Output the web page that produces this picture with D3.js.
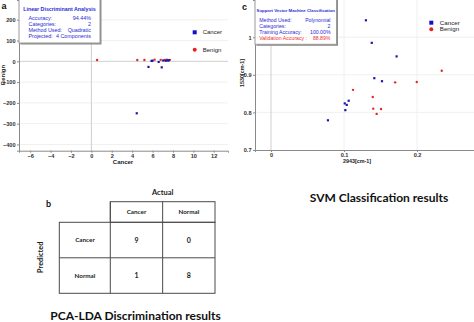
<!DOCTYPE html>
<html>
<head>
<meta charset="utf-8">
<script src="https://cdn.jsdelivr.net/npm/d3@7/dist/d3.min.js"></script>
<style>
  html, body { margin: 0; padding: 0; background: #fff; }
  svg { display: block; }
</style>
</head>
<body>
<svg id="chart" width="474" height="322"></svg>
<script>
// ---- Panel a: LDA scores (x = Cancer, y = Benign) ----
const ldaCancerX = [4.45, 5.6, 6.9, 6.0, 6.6, 7.05, 7.3, 7.5, 7.6, 5.9];
const ldaCancerY = [-250, -27, -29, 3, -3, 4, 3, 4, 5, 2];
const ldaBenignX = [0.56, 4.5, 5.2, 6.2, 7.2, 7.7, 7.4, 6.8];
const ldaBenignY = [6, 6, 6, 8, 6, 7, 8, 7];
const ldaXTicks = [-6, -4, -2, 0, 2, 4, 6, 8, 10, 12];
const ldaYTicks = [200, 100, 0, -100, -200, -300, -400];
const ldaInfoLabels = ["Accuracy:", "Categories:", "Method Used:", "Projected:"];
const ldaInfoValues = ["94.44%", "2", "Quadratic", "4 Components"];

// ---- Panel c: SVM (x = 2943 cm-1, y = 1530 cm-1) ----
const svmCancerX = [0.130, 0.138, 0.172, 0.1415, 0.152, 0.1064, 0.101, 0.1037, 0.1018, 0.078];
const svmCancerY = [1.045, 0.985, 0.949, 0.891, 0.883, 0.831, 0.824, 0.820, 0.806, 0.779];
const svmBenignX = [0.1123, 0.170, 0.1996, 0.2338, 0.1393, 0.140, 0.1507, 0.1447];
const svmBenignY = [0.860, 0.880, 0.881, 0.911, 0.841, 0.810, 0.809, 0.796];
const svmXTicks = [0, 0.1, 0.2];
const svmYTicks = [1, 0.9, 0.8, 0.7];
const svmInfoLabels = ["Method Used:", "Categories:", "Training Accuracy:", "Validation Accuracy :"];
const svmInfoValues = ["Polynomial", "2", "100.00%", "88.89%"];

// ---- Panel b: confusion matrix ----
const classes = ["Cancer", "Normal"];
const confusion = [[9, 0], [1, 8]];

const BLUE = "#1a1aa8", RED = "#e02a2a", BOXBLUE = "#2b2bd6", BOXRED = "#ee3030";
const SANS = "'Liberation Sans', Arial, sans-serif";
const HUMAN = "Lato, 'Open Sans', sans-serif";

const svg = d3.select("#chart");

function scatterPanel(cfg) {
  const g = svg.append("g");
  const x = d3.scaleLinear().domain(cfg.xDomain).range(cfg.xRange);
  const y = d3.scaleLinear().domain(cfg.yDomain).range(cfg.yRange);

  // grid
  g.append("g").selectAll("line").data(cfg.yTicks.filter(v => v !== 0 && v !== cfg.yDomain[0]))
    .join("line")
    .attr("x1", cfg.xRange[0]).attr("x2", cfg.xRange[1])
    .attr("y1", d => y(d)).attr("y2", d => y(d))
    .attr("stroke", "#ececec").attr("stroke-width", 0.8);
  if (cfg.vGrid) {
    g.append("g").selectAll("line").data(cfg.xTicks.filter(v => v !== 0))
      .join("line")
      .attr("x1", d => x(d)).attr("x2", d => x(d))
      .attr("y1", cfg.yRange[0]).attr("y2", cfg.yRange[1])
      .attr("stroke", "#ececec").attr("stroke-width", 0.8);
  }
  // zero lines
  if (cfg.zeroH) {
    g.append("line").attr("x1", cfg.xRange[0]).attr("x2", cfg.xRange[1])
      .attr("y1", y(0)).attr("y2", y(0)).attr("stroke", "#d0d0d0").attr("stroke-width", 1);
  }
  g.append("line").attr("x1", x(0)).attr("x2", x(0))
    .attr("y1", cfg.yRange[0]).attr("y2", cfg.yRange[1]).attr("stroke", "#cfcfcf").attr("stroke-width", 1);

  // axes
  const ax = g.append("g").attr("transform", `translate(0,${cfg.yRange[0]})`)
    .call(d3.axisBottom(x).tickValues(cfg.xTicks).tickSize(2).tickPadding(1.5).tickFormat(cfg.xFmt));
  const ay = g.append("g").attr("transform", `translate(${cfg.xRange[0]},0)`)
    .call(d3.axisLeft(y).tickValues(cfg.yTicks).tickSize(2).tickPadding(1.5).tickFormat(cfg.yFmt));
  [ax, ay].forEach(a => {
    a.select(".domain").attr("stroke", "#8a8a8a").attr("stroke-width", 1);
    a.selectAll(".tick line").attr("stroke", "#8a8a8a");
    a.selectAll("text").attr("font-family", SANS).attr("font-size", 5.6)
      .attr("font-weight", "bold").attr("fill", "#333");
  });

  // points
  const cancer = cfg.cx.map((v, i) => [v, cfg.cy[i]]);
  const benign = cfg.bx.map((v, i) => [v, cfg.by[i]]);
  g.append("g").selectAll("circle").data(benign).join("circle")
    .attr("cx", d => x(d[0])).attr("cy", d => y(d[1])).attr("r", 1.2).attr("fill", RED);
  g.append("g").selectAll("rect").data(cancer).join("rect")
    .attr("x", d => x(d[0]) - 1.1).attr("y", d => y(d[1]) - 1.1)
    .attr("width", 2.2).attr("height", 2.2).attr("fill", BLUE);

  // legend
  const lg = g.append("g").attr("transform", `translate(${cfg.legend[0]},${cfg.legend[1]})`);
  lg.append("rect").attr("x", -2).attr("y", -2).attr("width", 4).attr("height", 4).attr("fill", "#1010d0");
  lg.append("circle").attr("cx", 0).attr("cy", cfg.legendGap).attr("r", 2).attr("fill", "#e82020");
  lg.append("text").attr("x", cfg.legendTextDx).attr("y", 0).attr("dy", "0.35em").text("Cancer")
    .attr("font-family", SANS).attr("font-size", cfg.legendFont).attr("fill", "#222");
  lg.append("text").attr("x", cfg.legendTextDx).attr("y", cfg.legendGap).attr("dy", "0.35em").text("Benign")
    .attr("font-family", SANS).attr("font-size", cfg.legendFont).attr("fill", "#222");

  // axis titles
  g.append("text").attr("x", cfg.xLabel[0]).attr("y", cfg.xLabel[1]).attr("text-anchor", "middle")
    .attr("dy", "0.35em").text(cfg.xTitle)
    .attr("font-family", SANS).attr("font-size", cfg.axisFont).attr("font-weight", "bold").attr("fill", "#222");
  g.append("text").attr("transform", `translate(${cfg.yLabel[0]},${cfg.yLabel[1]}) rotate(-90)`)
    .attr("text-anchor", "middle").attr("dy", "0.35em").text(cfg.yTitle)
    .attr("font-family", SANS).attr("font-size", cfg.axisFont).attr("font-weight", "bold").attr("fill", "#222");

  // info box
  const b = cfg.box;
  const bg = g.append("g");
  bg.append("rect").attr("x", b.x + 1.5).attr("y", b.y).attr("width", b.w).attr("height", b.h + 1.5)
    .attr("fill", "#8c8c8c");
  bg.append("rect").attr("x", b.x).attr("y", b.y).attr("width", b.w).attr("height", b.h)
    .attr("fill", "#fff").attr("stroke", "#9a9a9a").attr("stroke-width", 1);
  bg.append("text").attr("x", b.x + b.w / 2).attr("y", b.titleY).attr("text-anchor", "middle")
    .attr("dy", "0.35em").text(b.title)
    .attr("font-family", SANS).attr("font-size", b.titleFont).attr("font-weight", "bold").attr("fill", BOXBLUE);
  b.labels.forEach((lab, i) => {
    const col = (b.redRow === i) ? BOXRED : BOXBLUE;
    bg.append("text").attr("x", b.x + b.padL).attr("y", b.rowY0 + i * b.rowStep).attr("dy", "0.35em")
      .text(lab).attr("font-family", SANS).attr("font-size", b.font).attr("fill", col);
    bg.append("text").attr("x", b.x + b.w - b.padR).attr("y", b.rowY0 + i * b.rowStep).attr("dy", "0.35em")
      .attr("text-anchor", "end").text(b.values[i])
      .attr("font-family", SANS).attr("font-size", b.font).attr("fill", col);
  });

  // panel letter
  g.append("text").attr("x", cfg.letter[0]).attr("y", cfg.letter[1]).attr("dy", "0.35em").text(cfg.letterText)
    .attr("font-family", SANS).attr("font-size", 9).attr("font-weight", "bold").attr("fill", "#111");
}

scatterPanel({
  xDomain: [-7.1, 13.4], xRange: [19, 228],
  yDomain: [-430, 295], yRange: [150.7, 0],
  xTicks: ldaXTicks, yTicks: ldaYTicks, xFmt: d3.format("d"), yFmt: d3.format("d"),
  zeroH: true, vGrid: false,
  cx: ldaCancerX, cy: ldaCancerY, bx: ldaBenignX, by: ldaBenignY,
  legend: [194.7, 32.3], legendGap: 17.4, legendTextDx: 8, legendFont: 6,
  xLabel: [123, 161.5], yLabel: [3.2, 75], xTitle: "Cancer", yTitle: "Benign", axisFont: 6,
  box: { x: 19, y: -2, w: 81, h: 45, title: "Linear Discriminant Analysis", titleY: 8.8, titleFont: 5.3,
         labels: ldaInfoLabels, values: ldaInfoValues, padL: 9.5, padR: 9, rowY0: 17.8, rowStep: 6,
         font: 5.4, redRow: -1 },
  letter: [1.5, 6], letterText: "a"
});

scatterPanel({
  xDomain: [-0.0219, 0.278], xRange: [255, 474],
  yDomain: [0.7, 1.099], yRange: [150, 0],
  xTicks: svmXTicks, yTicks: svmYTicks, xFmt: d3.format("~g"), yFmt: d3.format("~g"),
  zeroH: false, vGrid: true,
  cx: svmCancerX, cy: svmCancerY, bx: svmBenignX, by: svmBenignY,
  legend: [431.3, 22.7], legendGap: 6.5, legendTextDx: 8.5, legendFont: 6.2,
  xLabel: [357, 161], yLabel: [242, 73], xTitle: "2943[cm-1]", yTitle: "1530[cm-1]", axisFont: 5.4,
  box: { x: 255, y: -2, w: 81.5, h: 46.3, title: "Support Vector Machine Classification", titleY: 10, titleFont: 4.3,
         labels: svmInfoLabels, values: svmInfoValues, padL: 4.3, padR: 6, rowY0: 19.7, rowStep: 6,
         font: 5.2, redRow: 3 },
  letter: [242, 7.3], letterText: "c"
});

// ---- Panel b: confusion matrix table ----
const tb = svg.append("g");
const colX = d3.scaleBand().domain(classes).range([110.3, 215]);
const rowY = d3.scaleBand().domain(classes).range([222.3, 293.3]);
const headTop = 201.7;
const LINE = "#4a4a4a";

// header cells
tb.append("rect").attr("x", colX.range()[0]).attr("y", headTop)
  .attr("width", colX.range()[1] - colX.range()[0]).attr("height", rowY.range()[0] - headTop)
  .attr("fill", "none").attr("stroke", LINE).attr("stroke-width", 1);
// body
tb.append("rect").attr("x", 59.3).attr("y", rowY.range()[0])
  .attr("width", 215 - 59.3).attr("height", rowY.range()[1] - rowY.range()[0])
  .attr("fill", "none").attr("stroke", LINE).attr("stroke-width", 1);
classes.forEach(c => {
  tb.append("line").attr("x1", colX(c)).attr("x2", colX(c)).attr("y1", headTop).attr("y2", rowY.range()[1])
    .attr("stroke", LINE).attr("stroke-width", 1);
});
tb.append("line").attr("x1", 59.3).attr("x2", 215).attr("y1", rowY("Normal")).attr("y2", rowY("Normal"))
  .attr("stroke", LINE).attr("stroke-width", 1);

const cellText = (x, y, t, size, weight) => tb.append("text").attr("x", x).attr("y", y)
  .attr("text-anchor", "middle").attr("dy", "0.35em").text(t)
  .attr("font-family", HUMAN).attr("font-size", size).attr("font-weight", weight).attr("fill", "#222");

classes.forEach(c => cellText(colX(c) + colX.bandwidth() / 2, (headTop + rowY.range()[0]) / 2, c, 6.3, 700));
classes.forEach(r => cellText(85, rowY(r) + rowY.bandwidth() / 2, r, 6.3, 700));
confusion.forEach((row, i) => row.forEach((v, j) => {
  cellText(colX(classes[j]) + colX.bandwidth() / 2, rowY(classes[i]) + rowY.bandwidth() / 2, v, 7, 700);
}));
cellText(162.7, 192.3, "Actual", 7.5, 700);
tb.append("text").attr("transform", "translate(40,257.3) rotate(-90)").attr("text-anchor", "middle")
  .attr("dy", "0.35em").text("Predicted")
  .attr("font-family", HUMAN).attr("font-size", 7.3).attr("font-weight", 700).attr("fill", "#222");
tb.append("text").attr("x", 46).attr("y", 203.5).attr("dy", "0.35em").text("b")
  .attr("font-family", HUMAN).attr("font-size", 9).attr("font-weight", 700).attr("fill", "#111");

// ---- Captions ----
svg.append("text").attr("x", 135.5).attr("y", 315.3).attr("dy", "0.35em").attr("text-anchor", "middle")
  .text("PCA-LDA Discrimination results")
  .attr("font-family", HUMAN).attr("font-size", 12).attr("font-weight", 700).attr("fill", "#111");
svg.append("text").attr("x", 379).attr("y", 197.3).attr("dy", "0.35em").attr("text-anchor", "middle")
  .text("SVM Classification results")
  .attr("font-family", HUMAN).attr("font-size", 12).attr("font-weight", 700).attr("fill", "#111");
</script>
</body>
</html>
